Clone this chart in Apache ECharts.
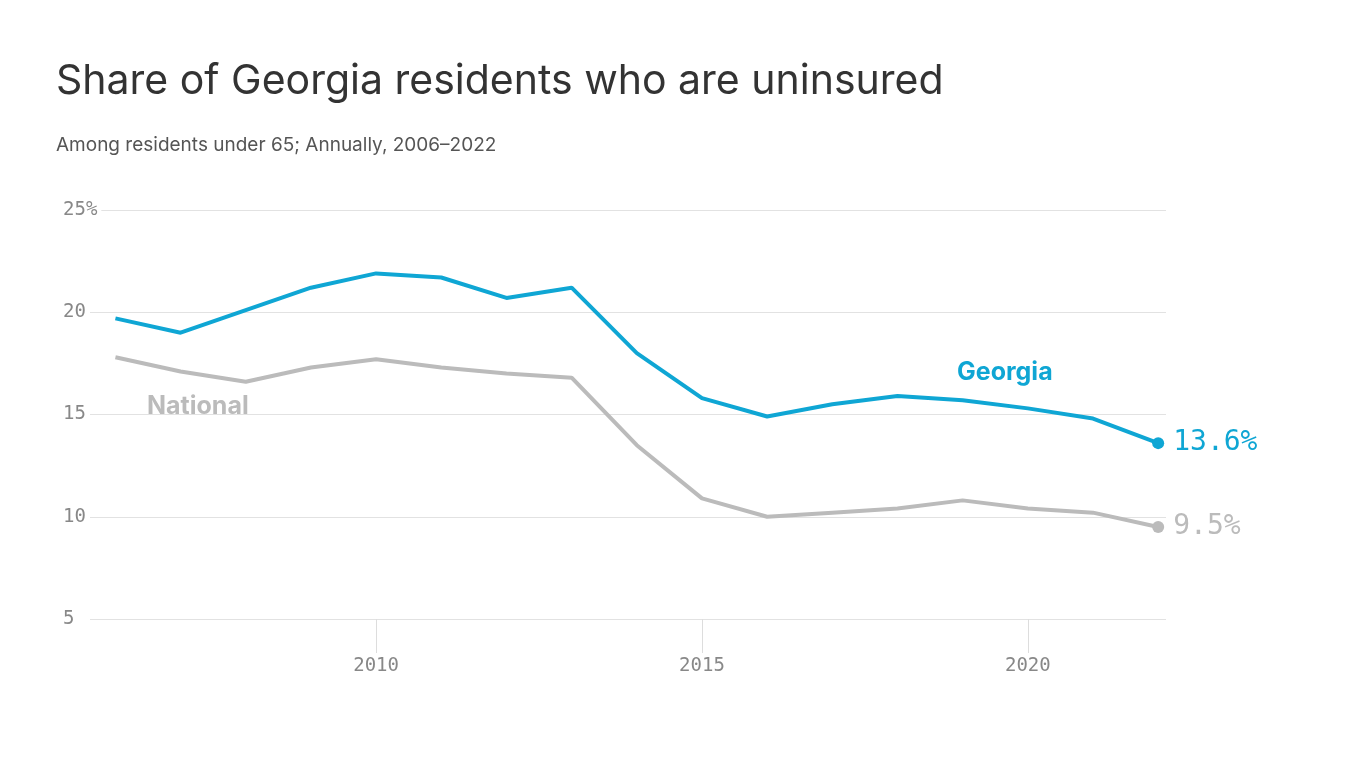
<!DOCTYPE html>
<html>
<head>
<meta charset="utf-8">
<script src="https://cdn.jsdelivr.net/npm/echarts@6/dist/echarts.min.js"></script>
<style>
html,body{margin:0;padding:0;background:#fff;}
#chart{width:1366px;height:768px;}
</style>
</head>
<body>
<div id="chart"></div>
<script>
// data
var years = [2006,2007,2008,2009,2010,2011,2012,2013,2014,2015,2016,2017,2018,2019,2020,2021,2022];
var georgia = [19.7,19.0,20.1,21.2,21.9,21.7,20.7,21.2,18.0,15.8,14.9,15.5,15.9,15.7,15.3,14.8,13.6];
var national = [17.8,17.1,16.6,17.3,17.7,17.3,17.0,16.8,13.5,10.9,10.0,10.2,10.4,10.8,10.4,10.2,9.5];
var xTicks = [2010,2015,2020];

var blue='#0fa6d4';
var grey='#bbbbbb';
var mono='"DejaVu Sans Mono", "Liberation Mono", monospace';
var sans='Inter, "Noto Sans", sans-serif';

function pairs(vals){
    var out=[];
    for(var i=0;i<years.length;i++){
        out.push([years[i],vals[i]]);
    }
    return out;
}
var last=years.length-1;

function lineSeries(name,vals,color){
    return {
        name:name,
        type:'line',
        data:pairs(vals),
        showSymbol:true,
        symbol:'circle',
        symbolSize:function(v,p){ return p.dataIndex===last ? 12 : 0; },
        itemStyle:{color:color},
        lineStyle:{color:color,width:4},
        endLabel:{
            show:true,
            distance:15,
            color:color,
            fontFamily:mono,
            fontSize:28,
            formatter:function(p){ return p.value[1].toFixed(1)+'%'; }
        },
        emphasis:{disabled:true},
        animation:false
    };
}

var mychart=echarts.init(document.getElementById('chart'));
var option={
    backgroundColor:'#fff',
    title:{
        text:'Share of Georgia residents who are uninsured',
        subtext:'Among residents under 65; Annually, 2006–2022',
        left:51,
        top:56,
        itemGap:34,
        textStyle:{fontFamily:sans,fontSize:41,fontWeight:'normal',color:'#333'},
        subtextStyle:{fontFamily:sans,fontSize:19,color:'#555'}
    },
    grid:{left:90,right:200,top:210,bottom:149},
    xAxis:{
        type:'value',
        min:2005.61,
        max:2022.12,
        axisLine:{show:false},
        splitLine:{show:false},
        axisTick:{show:true,customValues:xTicks,length:34,lineStyle:{color:'#dddddd'}},
        axisLabel:{
            customValues:xTicks,
            margin:38,
            color:'#888',
            fontFamily:mono,
            fontSize:19,
            formatter:function(v){ return String(v); }
        }
    },
    yAxis:{
        type:'value',
        min:5,
        max:25,
        interval:5,
        axisLine:{show:false},
        axisTick:{show:false},
        splitLine:{lineStyle:{color:'#e2e2e2',width:1}},
        axisLabel:{
            align:'left',
            margin:27,
            color:'#888',
            fontFamily:mono,
            fontSize:19,
            backgroundColor:'#fff',
            padding:[2,4,0,0],
            formatter:function(v){ return v===25 ? '25%' : v; }
        }
    },
    graphic:[
        {type:'text',left:957,top:360,silent:true,
         style:{text:'Georgia',fill:blue,font:'bold 25px '+sans}},
        {type:'text',left:144,top:394,silent:true,
         style:{text:'National',fill:grey,font:'bold 25px '+sans,backgroundColor:'#fff',padding:[0,3,0,3]}}
    ],
    series:[
        lineSeries('National',national,grey),
        lineSeries('Georgia',georgia,blue)
    ]
};
mychart.setOption(option);
</script>
</body>
</html>
